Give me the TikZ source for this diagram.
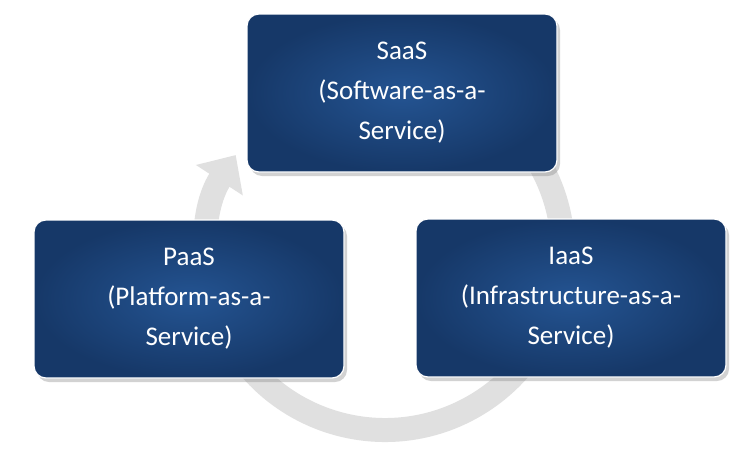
\documentclass[tikz,border=0pt]{standalone}
\usepackage{fontspec}
\setmainfont{Carlito}
\usetikzlibrary{arrows.meta,shadows}
\definecolor{bl}{RGB}{36,84,146}
\definecolor{bd}{RGB}{22,56,104}
\begin{document}
\begin{tikzpicture}[x=1pt,y=-1pt,
  svc/.style={rounded corners=12pt, draw=white, line width=1.2pt,
    inner color=bl, outer color=bd,
    drop shadow={opacity=0.35,shadow xshift=3pt,shadow yshift=-4pt},
    text=white, font=\fontsize{27}{40}\selectfont, align=center,
    minimum width=310pt, minimum height=158pt}]
\useasboundingbox (0,0) rectangle (752,466);
\fill[white] (0,0) rectangle (752,466);
\draw[line width=24pt, draw=black!12, -{Triangle[width=54pt,length=30pt]}]
  (385,252) ++(-30:178) arc[start angle=-30, end angle=213, radius=178];
\node[svc] (saas) at (402,93) {SaaS\\(Software-as-a-\\Service)};
\node[svc] (paas) at (189,299) {PaaS\\(Platform-as-a-\\Service)};
\node[svc] (iaas) at (571,298) {IaaS\\(Infrastructure-as-a-\\Service)};
\end{tikzpicture}
\end{document}
